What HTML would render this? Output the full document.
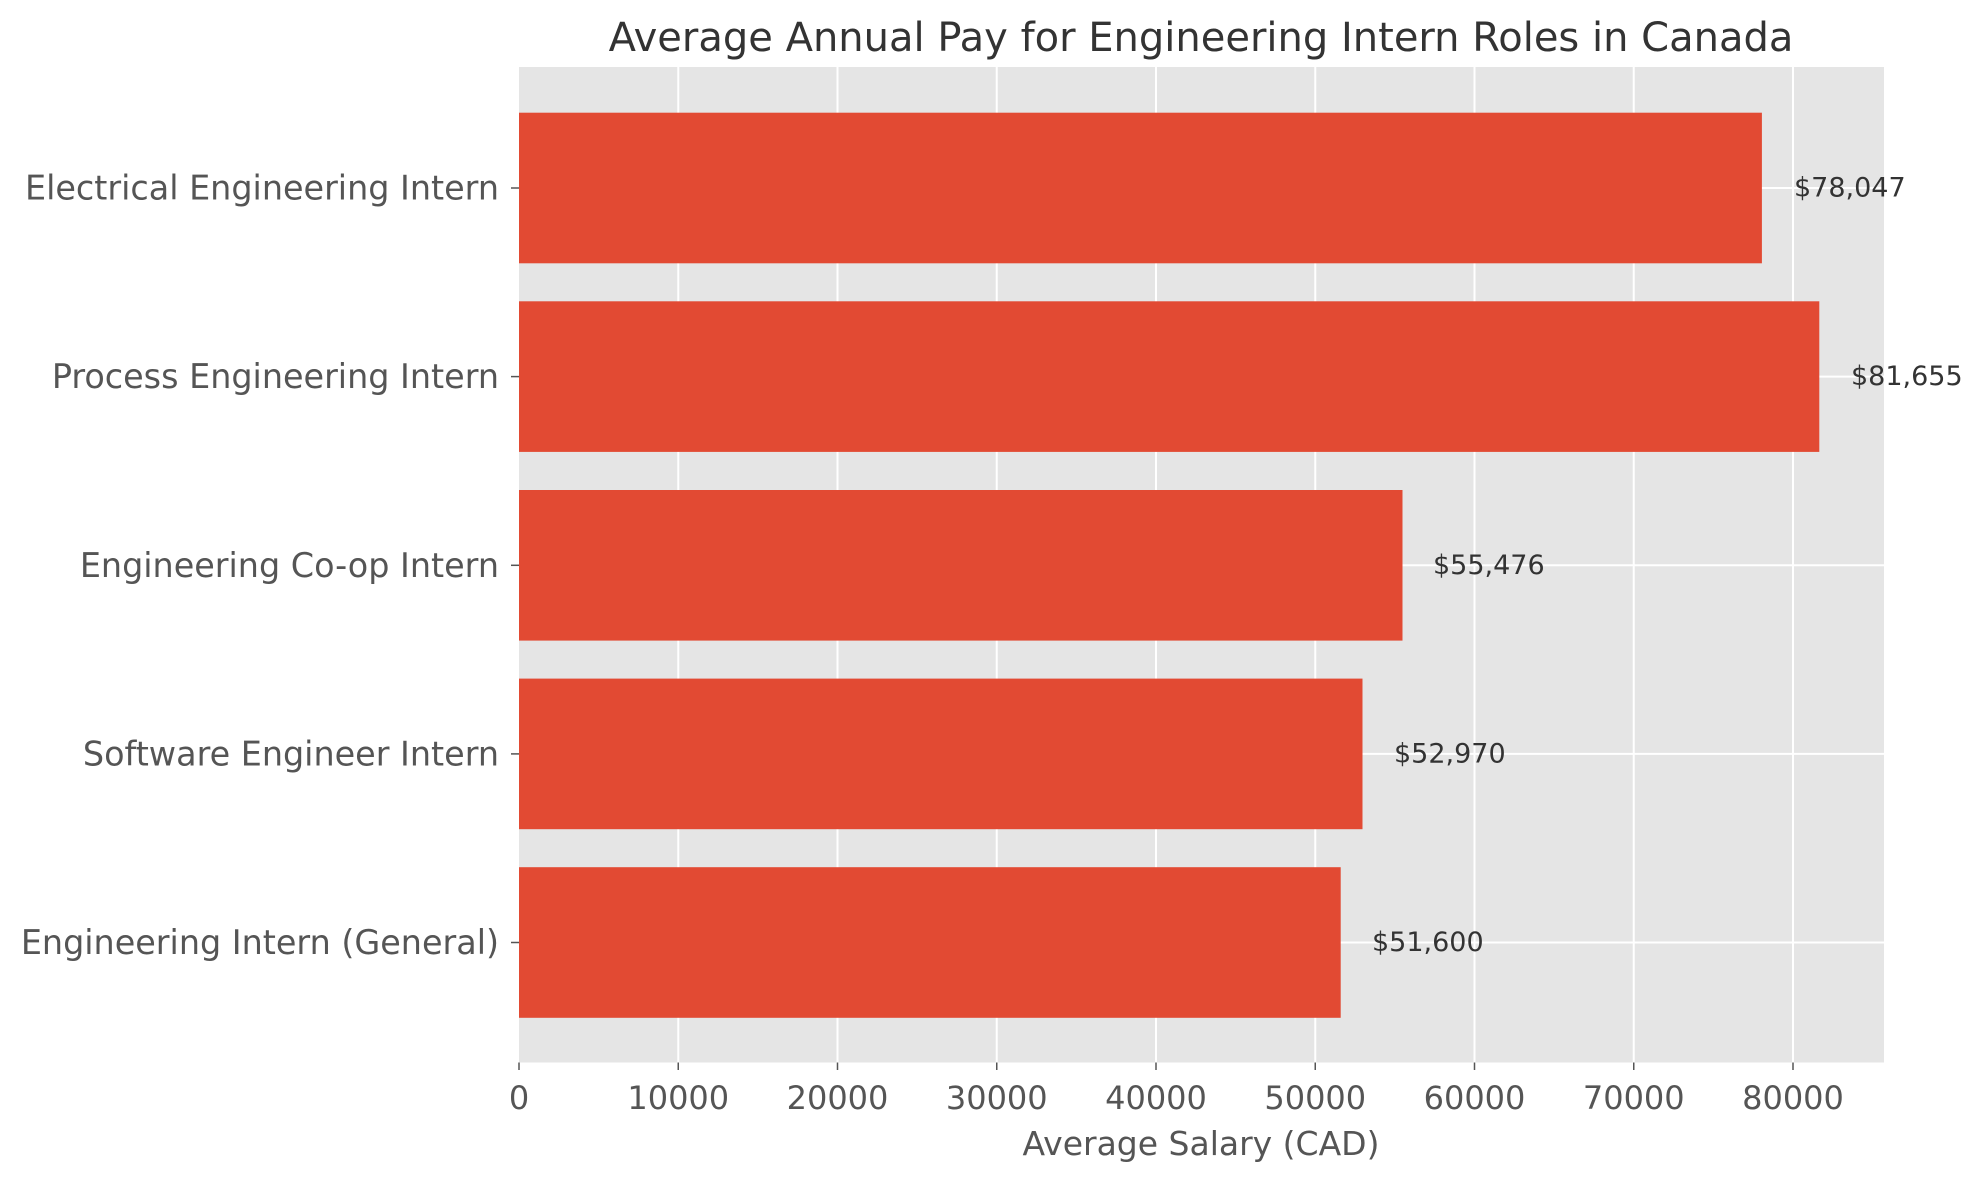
<!DOCTYPE html>
<html><head><meta charset="utf-8"><style>
html,body{margin:0;padding:0;background:#fff;}
svg{display:block;font-family:"DejaVu Sans","Liberation Sans",sans-serif;}
</style></head><body>
<svg width="1984" height="1180" viewBox="0 0 1984 1180" xmlns="http://www.w3.org/2000/svg">
<rect x="0" y="0" width="1984" height="1180" fill="#fff"/>
<rect x="519" y="67" width="1365" height="995.5" fill="#E5E5E5"/>
<g stroke="#fff" stroke-width="2">
<line x1="678.25" y1="67" x2="678.25" y2="1062.5"/>
<line x1="837.5" y1="67" x2="837.5" y2="1062.5"/>
<line x1="996.75" y1="67" x2="996.75" y2="1062.5"/>
<line x1="1156" y1="67" x2="1156" y2="1062.5"/>
<line x1="1315.25" y1="67" x2="1315.25" y2="1062.5"/>
<line x1="1474.5" y1="67" x2="1474.5" y2="1062.5"/>
<line x1="1633.75" y1="67" x2="1633.75" y2="1062.5"/>
<line x1="1793" y1="67" x2="1793" y2="1062.5"/>
<line x1="519" y1="188" x2="1884" y2="188"/>
<line x1="519" y1="376.6" x2="1884" y2="376.6"/>
<line x1="519" y1="565.3" x2="1884" y2="565.3"/>
<line x1="519" y1="753.9" x2="1884" y2="753.9"/>
<line x1="519" y1="942.5" x2="1884" y2="942.5"/>
</g>
<g fill="#E24A33">
<rect x="519" y="112.7" width="1242.9" height="150.6"/>
<rect x="519" y="301.3" width="1300.3" height="150.6"/>
<rect x="519" y="490" width="883.5" height="150.6"/>
<rect x="519" y="678.6" width="843.5" height="150.6"/>
<rect x="519" y="867.2" width="821.7" height="150.6"/>
</g>
<g fill="#333" font-size="27" dominant-baseline="central">
<text x="1794" y="188">$78,047</text>
<text x="1851" y="376.6">$81,655</text>
<text x="1433" y="565.3">$55,476</text>
<text x="1394" y="753.9">$52,970</text>
<text x="1372" y="942.5">$51,600</text>
</g>
<g stroke="#555" stroke-width="1.5">
<line x1="511" y1="188" x2="519" y2="188"/>
<line x1="511" y1="376.6" x2="519" y2="376.6"/>
<line x1="511" y1="565.3" x2="519" y2="565.3"/>
<line x1="511" y1="753.9" x2="519" y2="753.9"/>
<line x1="511" y1="942.5" x2="519" y2="942.5"/>
<line x1="519" y1="1062.5" x2="519" y2="1070"/>
<line x1="678.25" y1="1062.5" x2="678.25" y2="1070"/>
<line x1="837.5" y1="1062.5" x2="837.5" y2="1070"/>
<line x1="996.75" y1="1062.5" x2="996.75" y2="1070"/>
<line x1="1156" y1="1062.5" x2="1156" y2="1070"/>
<line x1="1315.25" y1="1062.5" x2="1315.25" y2="1070"/>
<line x1="1474.5" y1="1062.5" x2="1474.5" y2="1070"/>
<line x1="1633.75" y1="1062.5" x2="1633.75" y2="1070"/>
<line x1="1793" y1="1062.5" x2="1793" y2="1070"/>
</g>
<g fill="#555" font-size="33.4" text-anchor="end" dominant-baseline="central">
<text x="499" y="188">Electrical Engineering Intern</text>
<text x="499" y="376.6">Process Engineering Intern</text>
<text x="499" y="565.3">Engineering Co-op Intern</text>
<text x="499" y="753.9">Software Engineer Intern</text>
<text x="499" y="942.5">Engineering Intern (General)</text>
</g>
<g fill="#555" font-size="32" text-anchor="middle">
<text x="519" y="1109">0</text>
<text x="678.25" y="1109">10000</text>
<text x="837.5" y="1109">20000</text>
<text x="996.75" y="1109">30000</text>
<text x="1156" y="1109">40000</text>
<text x="1315.25" y="1109">50000</text>
<text x="1474.5" y="1109">60000</text>
<text x="1633.75" y="1109">70000</text>
<text x="1793" y="1109">80000</text>
</g>
<text x="1201" y="1155" fill="#555" font-size="33" text-anchor="middle">Average Salary (CAD)</text>
<text x="1201" y="51" fill="#333" font-size="40" text-anchor="middle">Average Annual Pay for Engineering Intern Roles in Canada</text>
</svg>
</body></html>
